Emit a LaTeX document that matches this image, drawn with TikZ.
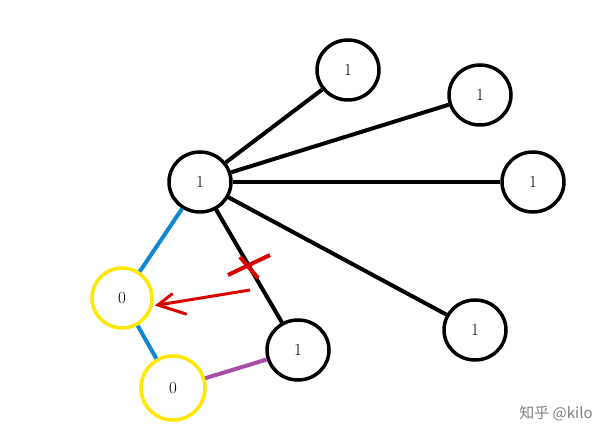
\documentclass[tikz,border=0pt]{standalone}
\usepackage{fontspec}
\newfontfamily\cjk{Noto Sans CJK SC}
\begin{document}
\begin{tikzpicture}[x=1pt,y=-1pt,
  bn/.style={draw=black,line width=3.5pt,ellipse,minimum width=62pt,minimum height=60pt,inner sep=0pt,font=\fontsize{17}{20}\selectfont},
  yn/.style={draw=yellow!90!orange,line width=3.5pt,circle,minimum size=60pt,inner sep=0pt,font=\fontsize{17}{20}\selectfont},
  ed/.style={line width=4pt}]
\usetikzlibrary{shapes.geometric}
\useasboundingbox (0,0) rectangle (615,443);
\node[bn] (c) at (200,182) {1};
\node[bn] (a) at (348,70) {1};
\node[bn] (b) at (480,95) {1};
\node[bn] (d) at (533,182) {1};
\node[bn] (e) at (475,330) {1};
\node[bn] (f) at (298,350) {1};
\node[yn] (y1) at (122,298) {0};
\node[yn,minimum size=64pt] (y2) at (173,388) {0};
\draw[ed] (c) -- (a);
\draw[ed] (c) -- (b);
\draw[ed] (c) -- (d);
\draw[ed] (c) -- (e);
\draw[ed] (c) -- (f);
\draw[ed,cyan!70!blue] (c) -- (y1);
\draw[ed,cyan!70!blue] (y1) -- (y2);
\draw[ed,violet!70] (y2) -- (f);
\coordinate (r1) at (250,290);
\coordinate (r2) at (158,305);
\draw[red!85!black,line width=3pt] (r1) -- (r2);
\draw[red!85!black,line width=3pt,line cap=round] (172,294) -- (158,305) -- (186,314);
\draw[red!85!black,line width=4pt] (228,275) -- (270,255);
\draw[red!85!black,line width=4pt] (240,257) -- (258,278);
\node[font=\cjk\fontsize{15}{18}\selectfont,text=gray] (w) at (556,413) {知乎 @kilo};
\end{tikzpicture}
\end{document}
